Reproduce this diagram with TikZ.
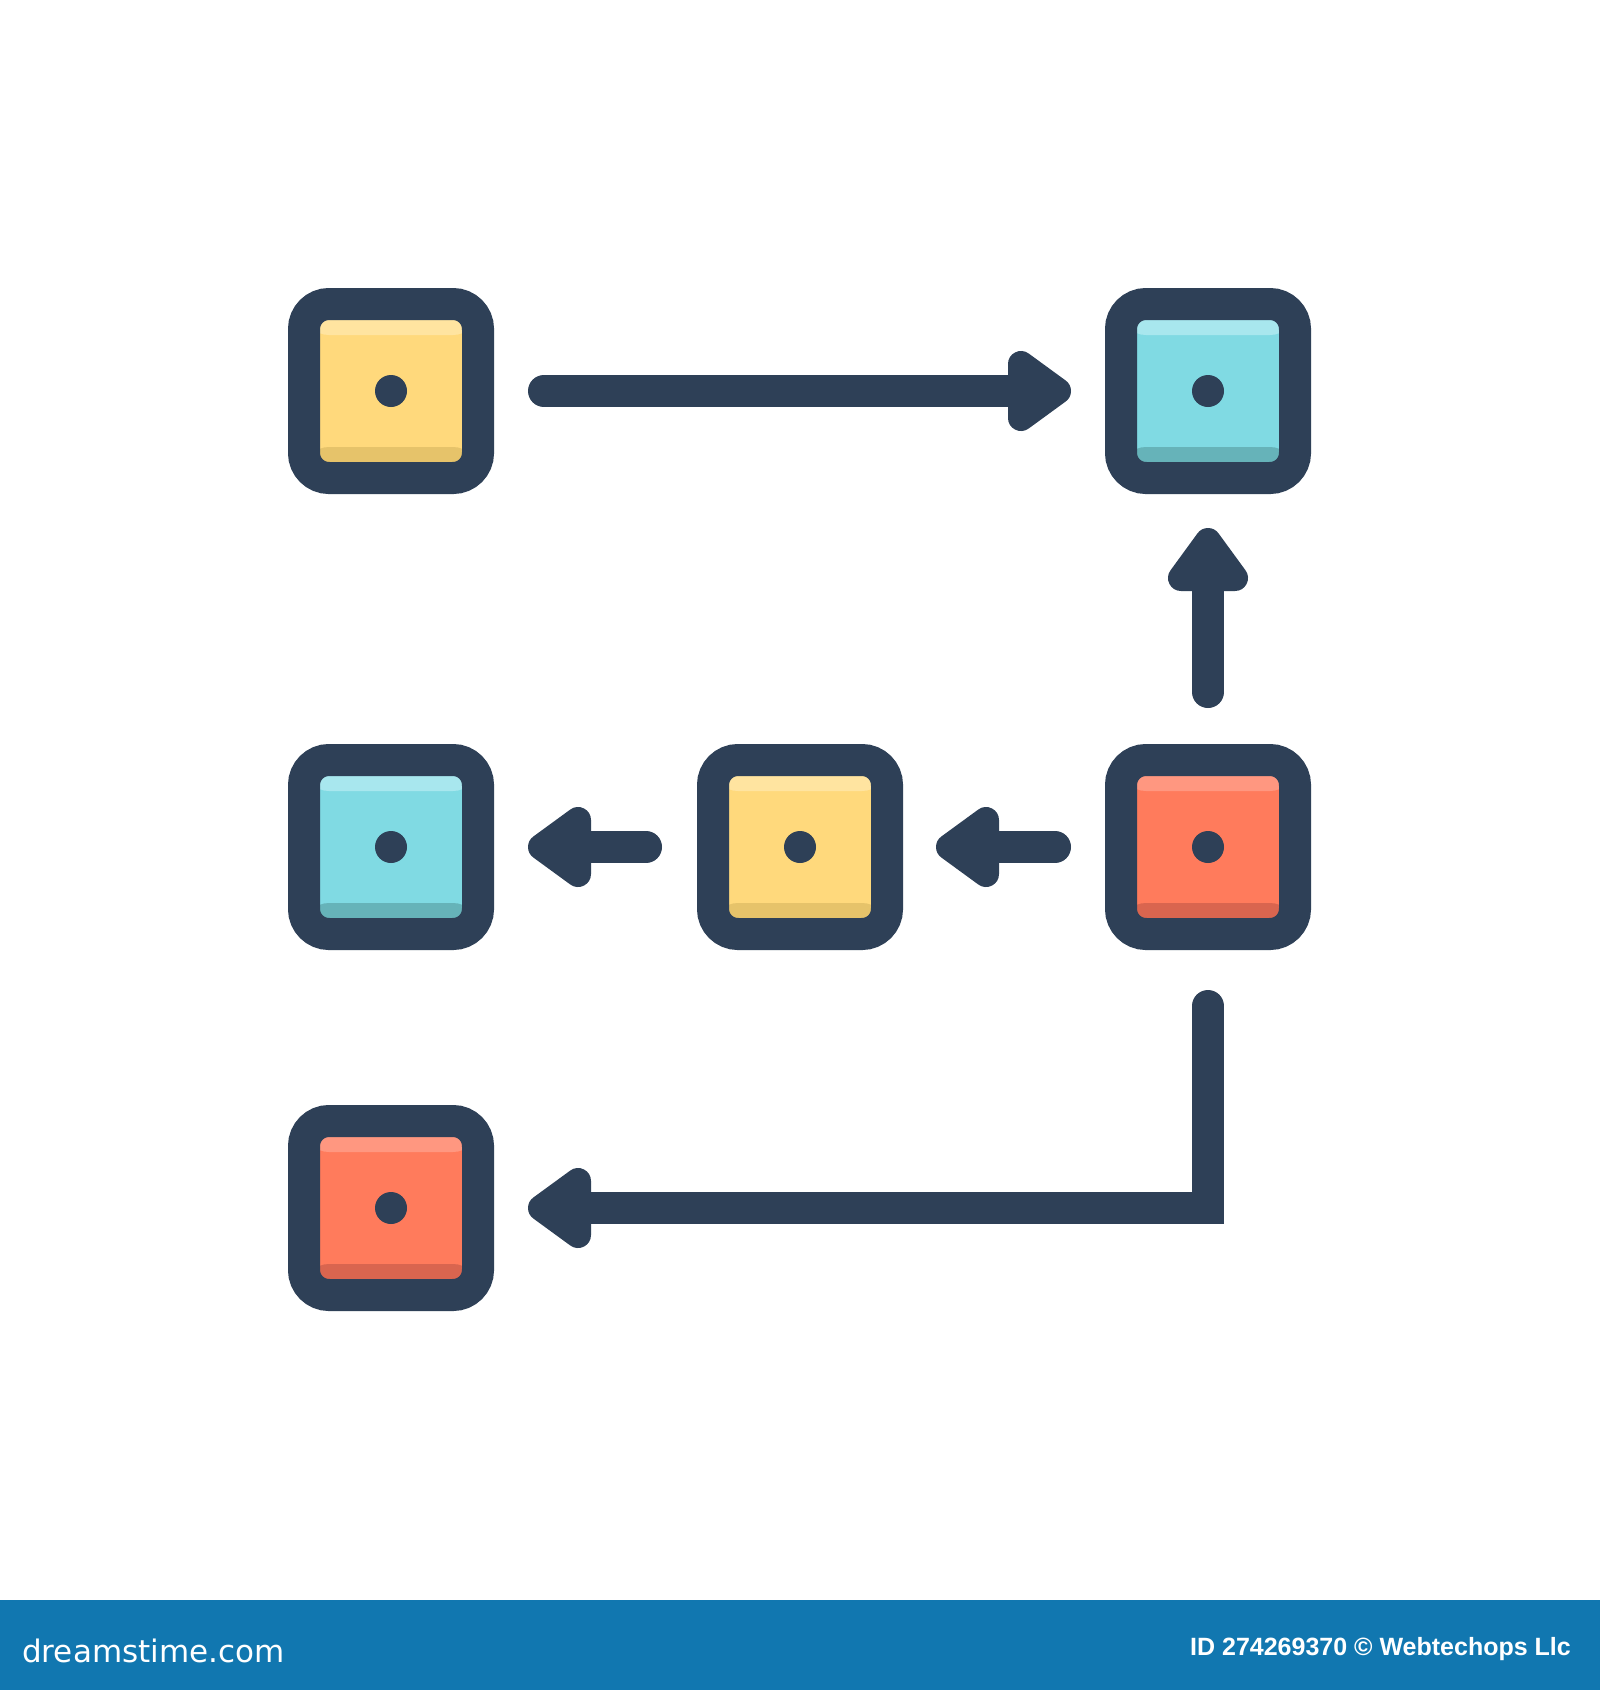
\documentclass[tikz,border=0pt]{standalone}
\usepackage{fontspec}
\usetikzlibrary{decorations.markings}
\newfontfamily\logofont{DejaVu Sans}
\newfontfamily\creditfont{Liberation Sans}
\definecolor{navy}{HTML}{2E4057}
\definecolor{yel}{HTML}{FFD97C}
\definecolor{yelT}{HTML}{FFE4A0}
\definecolor{yelB}{HTML}{E6C36A}
\definecolor{blu}{HTML}{80DAE3}
\definecolor{bluT}{HTML}{A8E7EE}
\definecolor{bluB}{HTML}{66B3B9}
\definecolor{red}{HTML}{FF7B5C}
\definecolor{redT}{HTML}{FF9780}
\definecolor{redB}{HTML}{D9654F}
\definecolor{barblue}{HTML}{1177B0}
\tikzset{
  cbox/.style={draw=navy, line width=32pt, minimum size=174pt, inner sep=0pt,
    outer sep=0pt, rounded corners=25pt, fill=#1,
    path picture={
      \fill[#1T] (path picture bounding box.north west) rectangle
        ([yshift=-31pt]path picture bounding box.north east);
      \fill[#1B] (path picture bounding box.south west) rectangle
        ([yshift=31pt]path picture bounding box.south east);
      \fill[navy] (path picture bounding box.center) circle (16pt);
    }},
  conn/.style={draw=navy, line width=32pt, line cap=round, line join=miter,
    postaction={decorate},
    decoration={markings, mark=at position 1 with {
      \filldraw[navy, line width=26pt, line join=round]
        (-3pt,-27pt) -- (34pt,0pt) -- (-3pt,27pt) -- cycle;}}},
}
\begin{document}
\begin{tikzpicture}[x=1pt,y=-1pt]
\useasboundingbox (0,0) rectangle (1600,1690);
\fill[white] (0,0) rectangle (1600,1690);

\node[cbox=yel] (b1) at (391,391) {};
\node[cbox=blu] (b2) at (1208,391) {};
\node[cbox=blu] (b3) at (391,847) {};
\node[cbox=yel] (b4) at (800,847) {};
\node[cbox=red] (b5) at (1208,847) {};
\node[cbox=red] (b6) at (391,1208) {};

\draw[conn] ([xshift=66pt]b1.east) -- ([xshift=-97pt]b2.west);
\draw[conn] ([yshift=68pt]b5.north) -- ([yshift=-97pt]b2.south);
\draw[conn] ([xshift=-66pt]b5.west) -- ([xshift=96pt]b4.east);
\draw[conn] ([xshift=-67pt]b4.west) -- ([xshift=97pt]b3.east);
\draw[conn] ([yshift=-72pt]b5.south) |- ([xshift=97pt]b6.east);

\fill[barblue] (0,1600) rectangle (1600,1690);
\node[anchor=base west, inner sep=0pt, text=white,
  font=\logofont\fontsize{31pt}{31pt}\selectfont] (logo) at (22,1662) {dreamstime.com};
\node[anchor=base east, inner sep=0pt, text=white,
  font=\creditfont\bfseries\fontsize{25pt}{25pt}\selectfont] (credit) at (1571,1655)
  {ID 274269370 © Webtechops Llc};
\end{tikzpicture}
\end{document}
